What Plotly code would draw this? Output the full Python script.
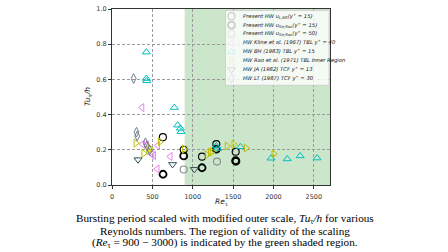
import plotly.graph_objects as go

# ---------------- data ----------------
hw_lbg_re = [630, 888, 1115, 1292, 1532]
hw_lbg_t = [0.272, 0.200, 0.161, 0.232, 0.189]

hw_rao15_re = [632, 888, 1115, 1292, 1532, 1535]
hw_rao15_t = [0.061, 0.165, 0.098, 0.204, 0.139, 0.135]

hw_rao50_re = [888, 1300]
hw_rao50_t = [0.088, 0.133]

kline_re = [372, 380, 433, 496, 516, 566, 560, 722]
kline_t = [0.44, 0.232, 0.228, 0.172, 0.167, 0.224, 0.091, 0.162]

bh_re = [425, 425, 432, 772, 814, 847, 855, 1292, 1310, 1590, 1970, 2170, 2330, 2540]
bh_t = [0.755, 0.605, 0.592, 0.44, 0.34, 0.322, 0.303, 0.222, 0.208, 0.217, 0.152, 0.148, 0.165, 0.153]

rao_re = [295, 392, 454, 470, 596, 896, 1177, 1218, 1240, 1425, 1508, 1660, 2005]
rao_t = [0.238, 0.180, 0.196, 0.210, 0.246, 0.204, 0.172, 0.185, 0.190, 0.222, 0.231, 0.210, 0.177]

ja_re = [322, 750, 1020]
ja_t = [0.144, 0.117, 0.089]

lt_re = [268, 303, 312, 415, 433, 466]
lt_t = [0.605, 0.300, 0.278, 0.240, 0.222, 0.198]

x_ticks = [0, 500, 1000, 1500, 2000, 2500]
y_ticks = [0.0, 0.2, 0.4, 0.6, 0.8, 1.0]
valid_lo, valid_hi = 900, 3000

series = [
    ("Present HW <i>u</i><sub><i>L,BG</i></sub>(<i>y</i><sup>+</sup> = 15)", hw_lbg_re, hw_lbg_t, "circle-open", "#000000", 1.1),
    ("Present HW <i>u</i><sub><i>Str,Rao</i></sub>(<i>y</i><sup>+</sup> = 15)", hw_rao15_re, hw_rao15_t, "circle-open", "#000000", 1.8),
    ("Present HW <i>u</i><sub><i>Str,Rao</i></sub>(<i>y</i><sup>+</sup> = 50)", hw_rao50_re, hw_rao50_t, "circle-open", "#8c8c8c", 1.1),
    ("HW Kline <i>et al.</i> (1967) TBL <i>y</i><sup>+</sup> = 40", kline_re, kline_t, "triangle-left-open", "#ee82ee", 1.0),
    ("HW BH (1983) TBL <i>y</i><sup>+</sup> = 15", bh_re, bh_t, "triangle-up-open", "#00bfbf", 1.0),
    ("HW Rao <i>et al.</i> (1971) TBL Inner Region", rao_re, rao_t, "triangle-right-open", "#bfbf00", 1.0),
    ("HW JA (1982) TCF <i>y</i><sup>+</sup> = 13", ja_re, ja_t, "triangle-down-open", "#2f4f4f", 1.0),
    ("HW LT (1987) TCF <i>y</i><sup>+</sup> = 30", lt_re, lt_t, "diamond-tall-open", "#708090", 1.0),
]

fig = go.Figure()
for name, xs, ys, sym, col, lw in series:
    fig.add_trace(go.Scatter(
        x=xs, y=ys, mode="markers", name=name, showlegend=False,
        marker=dict(symbol=sym, size=7, color=col, line=dict(color=col, width=lw)),
    ))

# ---- hand-made compact legend (plotly legend rows are too tall) ----
L, R, T, B = 112, 330, 5, 185
W, H = R - L, B - T
def px(xp):
    return (xp - L) / W
def py(yp):
    return (B - yp) / H

row0, row_gap = 12.3, 9.1
key_x, text_x = 231.5, 241.0
for i, (name, xs, ys, sym, col, lw) in enumerate(series):
    yy = row0 + i * row_gap
    fig.add_trace(go.Scatter(
        x=[px(key_x)], y=[py(yy)], xaxis="x2", yaxis="y2", mode="markers",
        showlegend=False, hoverinfo="skip",
        marker=dict(symbol=sym, size=7, color=col, line=dict(color=col, width=lw)),
    ))

annotations = []
for i, (name, *_rest) in enumerate(series):
    yy = row0 + i * row_gap
    annotations.append(dict(
        x=px(text_x), y=py(yy), xref="paper", yref="paper",
        text="<i>" + name + "</i>", showarrow=False, xanchor="left", yanchor="middle",
        font=dict(family="DejaVu Sans", size=5.3, color="#1a1a1a"),
    ))

# axis titles
annotations.append(dict(x=px(221), y=py(202), xref="paper", yref="paper",
                        text="<i>Re</i><sub>τ</sub>", showarrow=False,
                        xanchor="center", yanchor="middle",
                        font=dict(family="DejaVu Sans", size=7.5, color="#222222")))
annotations.append(dict(x=px(88), y=py(95), xref="paper", yref="paper",
                        text="<i>Tu</i><sub>τ</sub><i>/h</i>", showarrow=False, textangle=-90,
                        xanchor="center", yanchor="middle",
                        font=dict(family="DejaVu Sans", size=7.5, color="#222222")))

# caption
cap = [
    ("Bursting period scaled with modified outer scale, <i>Tu</i><sub>τ</sub><i>/h</i> for various", 220),
    ("Reynolds numbers. The region of validity of the scaling", 232),
    ("(<i>Re</i><sub>τ</sub> = 900 − 3000) is indicated by the green shaded region.", 244),
]
for txt, yy in cap:
    annotations.append(dict(x=px(225), y=py(yy), xref="paper", yref="paper",
                            text=txt, showarrow=False, xanchor="center", yanchor="middle",
                            font=dict(family="Liberation Serif", size=11.2, color="#000000")))

shapes = [
    dict(type="rect", xref="x", yref="paper", x0=valid_lo, x1=valid_hi, y0=0, y1=1,
         fillcolor="rgba(0,128,0,0.2)", line=dict(width=0), layer="below"),
    dict(type="rect", xref="paper", yref="paper", x0=px(225.5), x1=px(329), y0=py(83), y1=py(6.5),
         fillcolor="rgba(255,255,255,0.8)", line=dict(color="#cccccc", width=0.8), layer="above"),
]

grid_style = dict(showgrid=True, gridcolor="#9a9a9a", griddash="3px,2px", gridwidth=0.6)

fig.update_layout(
    width=448, height=252,
    margin=dict(l=L, r=448 - R, t=T, b=252 - B),
    paper_bgcolor="white", plot_bgcolor="white",
    showlegend=False,
    xaxis=dict(range=[0, 2700], tickvals=x_ticks, **grid_style,
               zeroline=False, showline=True, linecolor="#333333",
               linewidth=1, mirror=True, ticks="outside", ticklen=3, tickcolor="#333333",
               ticklabelstandoff=2,
               tickfont=dict(family="DejaVu Sans", size=6.5, color="#333333")),
    yaxis=dict(range=[0, 1.0], tickvals=y_ticks, tickformat=".1f", **grid_style,
               zeroline=False,
               showline=True, linecolor="#333333", linewidth=1, mirror=True,
               ticks="outside", ticklen=3, tickcolor="#333333",
               tickfont=dict(family="DejaVu Sans", size=6.5, color="#333333")),
    xaxis2=dict(overlaying="x", range=[0, 1], visible=False, fixedrange=True),
    yaxis2=dict(overlaying="y", range=[0, 1], visible=False, fixedrange=True),
    shapes=shapes,
    annotations=annotations,
)

fig.write_html("out.html", config={"displayModeBar": False},
               post_script="document.body.style.margin='0';")
